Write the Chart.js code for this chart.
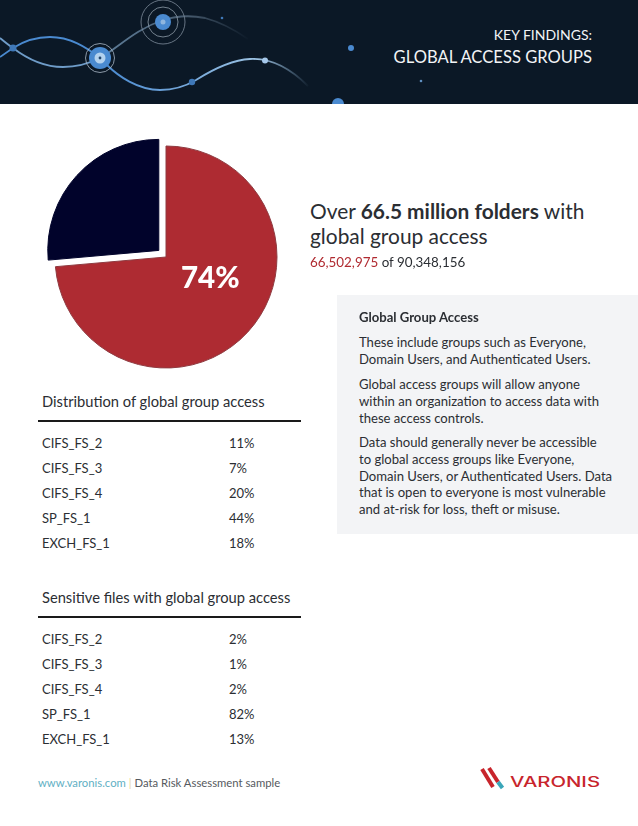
<!DOCTYPE html>
<html>
<head>
<meta charset="utf-8">
<script src="https://cdn.jsdelivr.net/npm/chart.js@4"></script>
<style>
html, body { margin: 0; padding: 0; background: #fff; }
body { position: relative; width: 638px; height: 826px; overflow: hidden; font-family: "Lato", sans-serif; color: #2b2e33; }
.t { position: absolute; white-space: nowrap; line-height: 1; transform: translateY(-50%); }
#header { position: absolute; left: 0; top: 0; width: 638px; height: 104px; background: #0b1826; }
#pieBox { position: absolute; left: 35px; top: 126px; width: 262px; height: 262px; }
#box { position: absolute; left: 337px; top: 295px; width: 301px; height: 239px; background: #f3f4f6; }
.rule { position: absolute; left: 38px; width: 263px; height: 2px; background: #1a1a1a; }
</style>
</head>
<body>
<div id="header">
  <svg width="638" height="104" style="position:absolute;left:0;top:0">
    <defs>
      <linearGradient id="fadeA" gradientUnits="userSpaceOnUse" x1="100" y1="0" x2="250" y2="0">
        <stop offset="0" stop-color="#5f7f9c"/><stop offset="0.6" stop-color="#45586b"/><stop offset="1" stop-color="#0b1826"/>
      </linearGradient>
      <linearGradient id="fadeB" gradientUnits="userSpaceOnUse" x1="105" y1="0" x2="310" y2="0">
        <stop offset="0" stop-color="#4a8ad0"/><stop offset="0.75" stop-color="#9cc2e2"/><stop offset="1" stop-color="#0b1826"/>
      </linearGradient>
    </defs>
    <path d="M0 38 C6 43 10 46 13 48 C26 58 44 67 63 67 C76 67 88 64 100 58" fill="none" stroke="#6f9cc8" stroke-width="1.8"/>
    <path d="M0 57 L13 48 C24 41 36 37 50 37 C70 37 86 47 100 58" fill="none" stroke="#4a8ad0" stroke-width="1.8"/>
    <path d="M100 58 C118 48 134 30 163 20 C176 16 190 15 205 18 C220 22 235 30 248 39" fill="none" stroke="url(#fadeA)" stroke-width="1.8"/>
    <path d="M107 65 C118 76 138 90 160 90 C176 90 186 86 196 80 C215 68 232 60 250 59 C270 58 290 68 308 86" fill="none" stroke="url(#fadeB)" stroke-width="1.8"/>
    <circle cx="13" cy="48" r="3.5" fill="#3f78b8"/>
    <circle cx="100" cy="58" r="14.5" fill="none" stroke="#a9b8c6" stroke-width="0.8"/>
    <circle cx="100" cy="58" r="11" fill="#4a8ad0"/>
    <circle cx="100" cy="58" r="5.5" fill="#b4d2ee"/>
    <circle cx="100" cy="58" r="1.4" fill="#24476e"/>
    <circle cx="163" cy="22" r="22" fill="none" stroke="#7d8c9b" stroke-width="0.8"/>
    <circle cx="163" cy="22" r="15" fill="none" stroke="#8f9daa" stroke-width="0.8"/>
    <circle cx="163" cy="22" r="8" fill="#4a8ad0"/>
    <circle cx="163" cy="22" r="2.5" fill="#8fb6de"/>
    <circle cx="192" cy="82" r="3.2" fill="#3f78b8"/>
    <circle cx="265" cy="60.5" r="3" fill="#a6c8ea"/>
    <circle cx="222" cy="18" r="1.3" fill="#3f78b8"/>
    <circle cx="351" cy="48" r="3" fill="#4a8ad0"/>
    <circle cx="421" cy="81" r="1.3" fill="#5f8fc0"/>
    <circle cx="338" cy="104" r="6" fill="#4a8ad0"/>
  </svg>
  <div class="t" style="right:46px;top:35px;font-size:14px;color:#f2f4f6;">KEY FINDINGS:</div>
  <div class="t" style="right:46px;top:57px;font-size:16.6px;color:#f2f4f6;">GLOBAL ACCESS GROUPS</div>
</div>

<div id="pieBox"><canvas id="pie" width="262" height="262"></canvas></div>
<div class="t" style="left:181px;top:277px;font-size:29.5px;font-weight:900;color:#fff;">74%</div>

<div class="t" style="left:310px;top:211px;font-size:20.9px;">Over <b>66.5 million folders</b> with</div>
<div class="t" style="left:310px;top:236px;font-size:20.9px;">global group access</div>
<div class="t" style="left:310px;top:263px;font-size:13.4px;"><span style="color:#b02a30">66,502,975</span> of 90,348,156</div>

<div id="box"></div>
<div id="boxText"></div>
<div id="tables"></div>

<div class="t" style="left:38px;top:783px;font-size:11.3px;color:#55595e;"><span style="color:#5fb0c4">www.varonis.com</span> <span style="color:#e8d9a0">|</span> Data Risk Assessment sample</div>
<svg width="130" height="26" style="position:absolute;left:476px;top:765px">
  <path d="M6 4 L17 22" stroke="#c8252c" stroke-width="4" fill="none"/>
  <path d="M13 3 L22 17" stroke="#c8252c" stroke-width="4" fill="none"/>
  <path d="M22 17 L26.5 23" stroke="#3aa6b9" stroke-width="4" fill="none"/>
  <text x="34" y="22" font-family="Inter" font-size="14" font-weight="500" fill="#c8252c" textLength="90" lengthAdjust="spacingAndGlyphs">VARONIS</text>
</svg>

<script>
let pieLabels = ["Global group access", "Other folders"];
let pieValues = [66502975, 23845181];
let pieColors = ["#ae2b32", "#01032b"];

let servers = ["CIFS_FS_2", "CIFS_FS_3", "CIFS_FS_4", "SP_FS_1", "EXCH_FS_1"];
let distribution = ["11%", "7%", "20%", "44%", "18%"];
let sensitive = ["2%", "1%", "2%", "82%", "13%"];

let boxLines = [
    ["Global Group Access", 318, true],
    ["These include groups such as Everyone,", 343],
    ["Domain Users, and Authenticated Users.", 360],
    ["Global access groups will allow anyone", 385],
    ["within an organization to access data with", 402],
    ["these access controls.", 419],
    ["Data should generally never be accessible", 443],
    ["to global access groups like Everyone,", 460],
    ["Domain Users, or Authenticated Users. Data", 477],
    ["that is open to everyone is most vulnerable", 493],
    ["and at-risk for loss, theft or misuse.", 510]
];

function addText(parent, text, left, top, size, bold) {
    let el = document.createElement("div");
    el.className = "t";
    el.innerText = text;
    el.style.left = left + "px";
    el.style.top = top + "px";
    el.style.fontSize = size + "px";
    if (bold) el.style.fontWeight = "700";
    parent.appendChild(el);
}

function addTable(title, values, top) {
    let parent = document.getElementById("tables");
    addText(parent, title, 42, top, 14.7);
    let rule = document.createElement("div");
    rule.className = "rule";
    rule.style.top = (top + 19) + "px";
    parent.appendChild(rule);
    servers.forEach((name, i) => {
        addText(parent, name, 42, top + 42 + i * 25, 13);
        addText(parent, values[i], 229, top + 42 + i * 25, 13);
    });
}

boxLines.forEach(line => {
    addText(document.getElementById("boxText"), line[0], 359, line[1], 13.1, line[2]);
});

addTable("Distribution of global group access", distribution, 401);
addTable("Sensitive files with global group access", sensitive, 597);

new Chart(document.getElementById("pie"), {
    type: "pie",
    data: {
        labels: pieLabels,
        datasets: [{
            data: pieValues,
            backgroundColor: pieColors,
            borderColor: ["#8e3a40", "#01032b"],
            borderWidth: 1,
            offset: [0, 39]
        }]
    },
    options: {
        responsive: false,
        animation: false,
        plugins: { legend: { display: false }, tooltip: { enabled: false } }
    }
});
</script>
</body>
</html>
